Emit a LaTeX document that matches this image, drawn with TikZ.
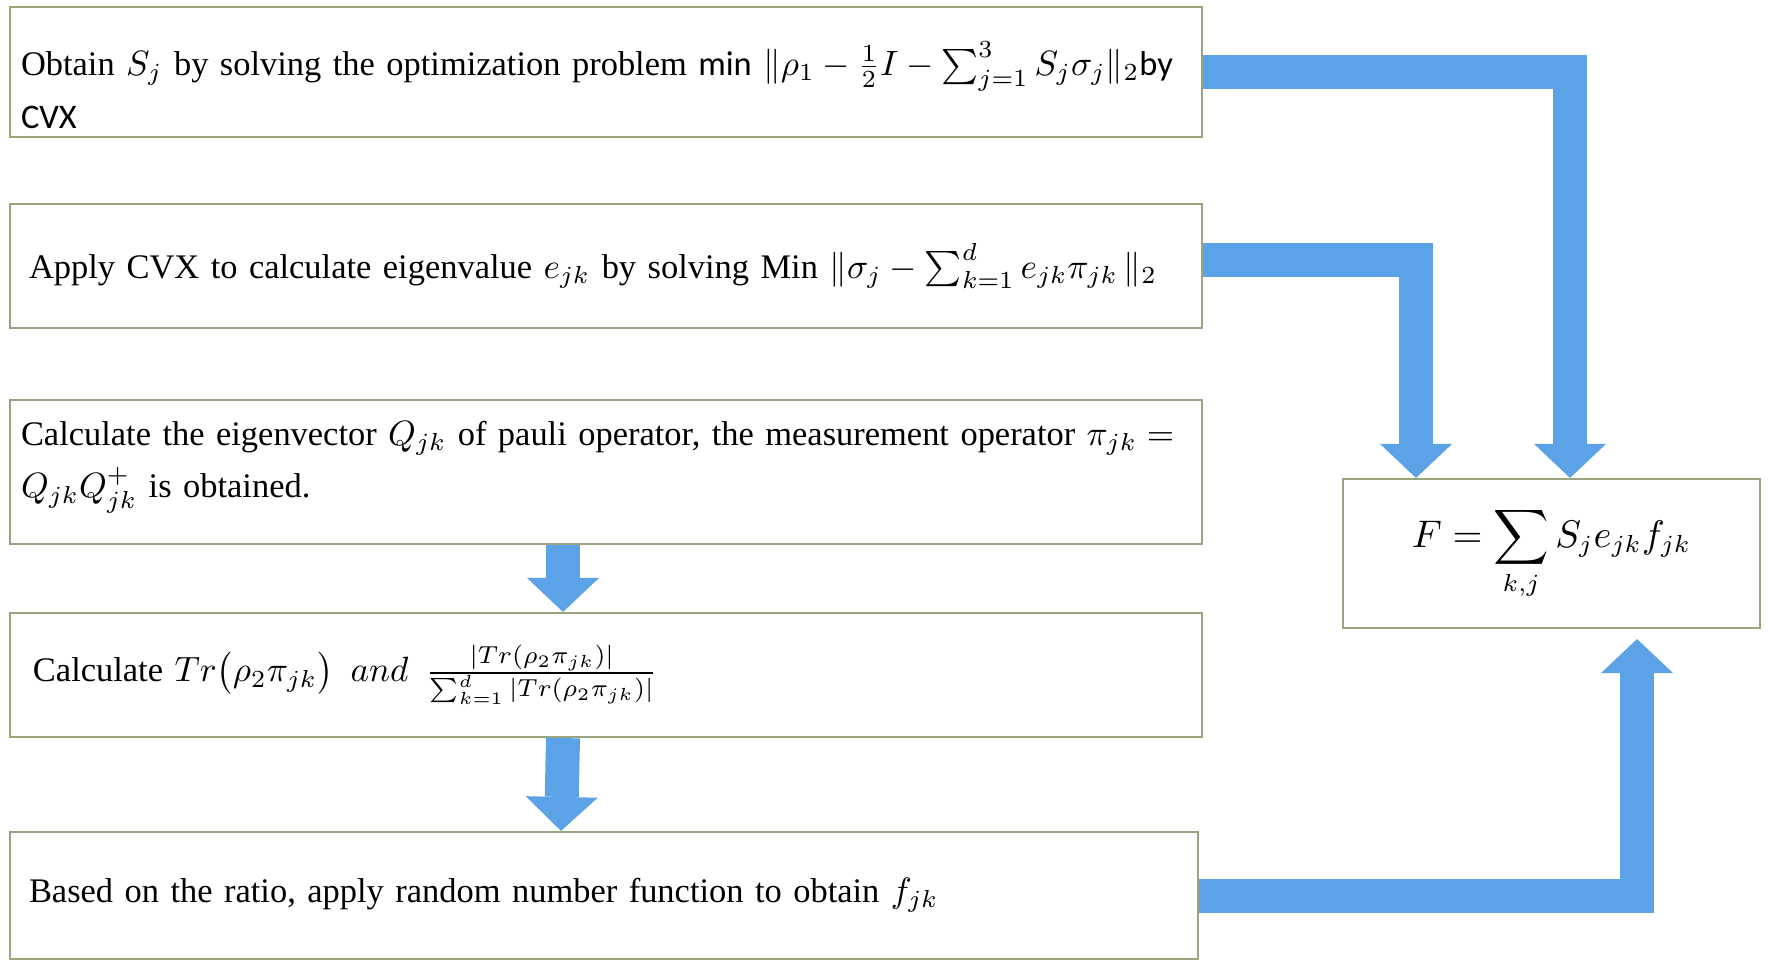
\documentclass[tikz,border=0pt]{standalone}
\usepackage{amsmath}
\usepackage{fontspec}
\setmainfont{Liberation Serif}
\newfontfamily\calibri{Carlito}
\usepackage{tikz}
\usepackage{xcolor}
\usetikzlibrary{
    arrows.meta,
    shapes.misc
}
\definecolor{flowblue}{RGB}{91,163,230}
\definecolor{boxline}{RGB}{155,165,125}

\begin{document}
\begin{tikzpicture}[
    stepbox/.style={draw=boxline, line width=0.6pt, rectangle, align=left, text width=11.7cm, inner xsep=0.11cm, font=\fontsize{9.8}{14}\selectfont},
    flow/.style={draw=flowblue, line width=0.34cm, -{Triangle[width=0.72cm, length=0.34cm, line width=0pt]}}
]
                \useasboundingbox (0, 0) rectangle (17.68, 9.67);

                \node[stepbox, minimum height=1.30cm, inner ysep=0pt] (obtain) at (6.06, 8.95) {\rule{0pt}{0.6cm}Obtain $S_j$ by solving the optimization problem {\calibri min} $\|\rho_1-\frac{1}{2}I-\sum_{j=1}^{3}S_j\sigma_j\|_2${\calibri by}\\[1pt]{\calibri CVX}};
                \node[stepbox, minimum height=1.24cm] (eigenvalue) at (6.06, 7.01) {\hspace{0.08cm}Apply CVX to calculate eigenvalue $e_{jk}$ by solving Min $\|\sigma_j-\sum_{k=1}^{d}e_{jk}\pi_{jk}\,\|_2$};
                \node[stepbox, minimum height=1.44cm] (eigenvector) at (6.06, 4.95) {\mbox{Calculate the eigenvector $Q_{jk}$ of pauli operator, the measurement operator $\pi_{jk}=$}\\[1pt]$Q_{jk}Q_{jk}^{+}$ is obtained.\rule[-0.25cm]{0pt}{0.25cm}};
                \node[stepbox, minimum height=1.24cm] (trace) at (6.06, 2.92) {\hspace{0.12cm}Calculate $Tr\bigl(\rho_2\pi_{jk}\bigr)$\enspace $and$\enspace $\frac{|Tr(\rho_2\pi_{jk})|}{\sum_{k=1}^{d}|Tr(\rho_2\pi_{jk})|}$};
                \node[stepbox, minimum height=1.27cm, text width=11.66cm] (ratio) at (6.04, 0.715) {\hspace{0.08cm}Based on the ratio, apply random number function to obtain $f_{jk}$};

                \node[draw=boxline, line width=0.6pt, rectangle, minimum width=4.17cm, minimum height=1.49cm, font=\fontsize{10.5}{13}\selectfont] (fidelity) at (15.515, 4.135) {$F=\displaystyle\sum_{k,j}S_je_{jk}f_{jk}$};

                \draw[flow] (obtain.east) -| ([xshift=0.185cm]fidelity.north);
                \draw[flow] ([yshift=0.06cm]eigenvalue.east) -| ([xshift=-1.355cm]fidelity.north);
                \draw[flow] ([xshift=-0.43cm]eigenvector.south) -- ([xshift=-0.43cm]trace.north);
                \draw[flow] ([xshift=-0.43cm]trace.south) -- ([xshift=-0.43cm]ratio.north);
                \draw[flow, shorten >=0.1cm] (ratio.east) -| ([xshift=0.855cm]fidelity.south);
\end{tikzpicture}
\end{document}
